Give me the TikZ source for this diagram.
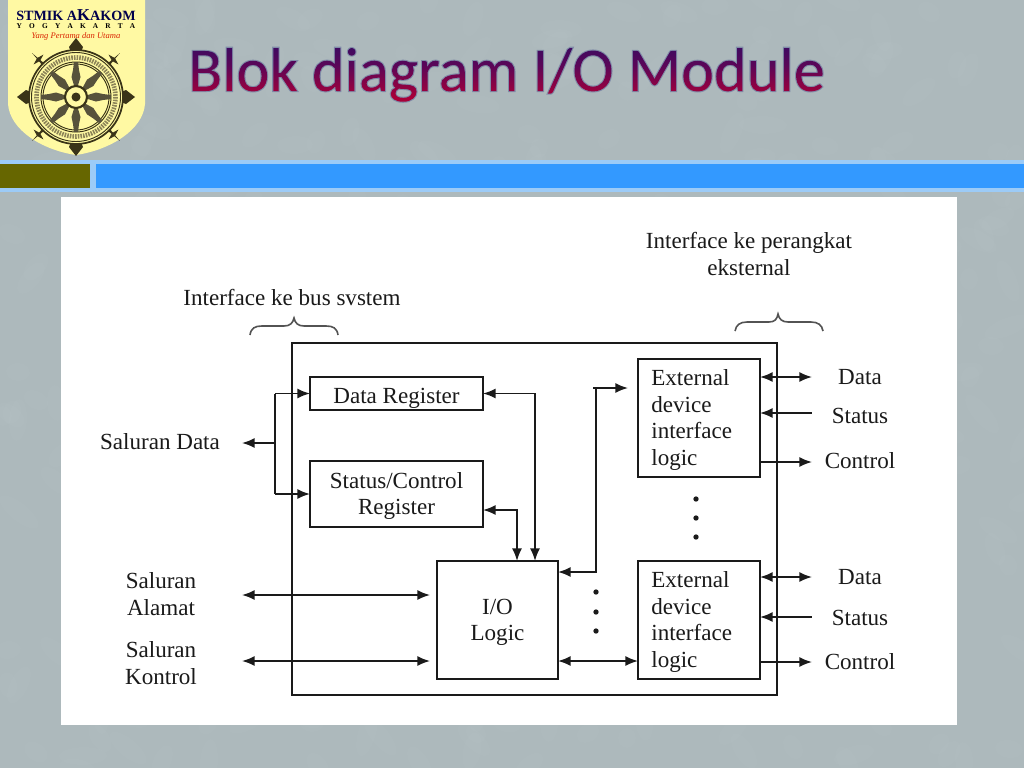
\documentclass[tikz,border=0pt]{standalone}
\usepackage{fontspec}
\setmainfont{Liberation Serif}
\newfontfamily\titlefont{Carlito}
\usetikzlibrary{arrows.meta,calc}
\definecolor{bgc}{HTML}{ADB9BC}
\definecolor{bandlight}{HTML}{9CCBF7}
\definecolor{bandblue}{HTML}{3399FF}
\definecolor{olivebar}{HTML}{666600}
\definecolor{shieldc}{HTML}{FFF9A3}
\definecolor{inkc}{HTML}{1A1A1A}
\definecolor{titletop}{HTML}{14106E}
\definecolor{titlemid}{HTML}{5A0658}
\definecolor{titlebot}{HTML}{A80038}
\definecolor{titleor}{HTML}{F08010}
\definecolor{logoink}{HTML}{3A3418}
\definecolor{logotan}{HTML}{8C8458}
\pgfdeclareverticalshading{titlegrad}{100bp}{color(0bp)=(titleor); color(14bp)=(titleor); color(24bp)=(titlebot); color(32bp)=(titlebot); color(60bp)=(titlemid); color(100bp)=(titletop)}
\tikzset{
  x=0.75pt,y=-0.75pt,
  blockbox/.style={draw=inkc,line width=1.2pt,fill=white,inner sep=0pt,outer sep=0pt},
  lbl/.style={text=inkc,font=\fontsize{17.3}{20}\selectfont,inner sep=0pt,align=center},
  wire/.style={draw=inkc,line width=1.2pt},
  one/.style={wire,-{Latex[length=9.5pt,width=7.5pt]}},
  both/.style={wire,{Latex[length=9.5pt,width=7.5pt]}-{Latex[length=9.5pt,width=7.5pt]}},
  backw/.style={wire,{Latex[length=9.5pt,width=7.5pt]}-},
  bracec/.style={draw=inkc!75,line width=1.2pt},
  dotc/.style={circle,fill=inkc,inner sep=0pt,minimum size=4pt},
  titletext/.style={font=\titlefont\fontsize{46.8}{50}\selectfont,anchor=base west,inner sep=0pt},
  logoline/.style={draw=logoink,line width=0.7pt},
}
\newcommand{\lowr}{\rule{0pt}{15pt}}
\begin{document}
\begin{tikzpicture}
\useasboundingbox (0,0) rectangle (1024,768);
\fill[bgc] (0,0) rectangle (1024,768);
% background mottling
\pgfmathsetseed{7}
\foreach \i in {1,...,420} {
  \pgfmathsetmacro{\bx}{random(0,1024)}
  \pgfmathsetmacro{\by}{random(0,768)}
  \pgfmathsetmacro{\br}{random(0,180)}
  \pgfmathsetmacro{\bl}{random(10,24)}
  \fill[white,opacity=0.014,rotate around={\br:(\bx,\by)}] (\bx,\by) ellipse[x radius=\bl,y radius=9];
}
% title: gradient shown through the glyphs, with a soft grey outline
\node[titletext] (title) at (188,91) {\special{pdf:code 5 Tr 1.6 w 0.50 0.55 0.66 RG}Blok diagram I/O Module\special{pdf:code 0 Tr}\tikz[overlay]{\shade[shading=titlegrad] (-660,-43) rectangle (10,14);}};
% bands
\fill[bandlight] (0,160) rectangle (1024,192);
\fill[olivebar] (0,164) rectangle (90,188);
\fill[bandblue] (96,164) rectangle (1024,188);
% logo shield
\fill[shieldc] (8,0) -- (145,0) -- (145,104) .. controls (143,130) and (110,150) .. (76,155) .. controls (42,150) and (10,130) .. (8,104) -- cycle;
\node[inner sep=0pt,text=black!70!blue,font=\fontsize{10.6}{12}\bfseries\selectfont] (lg1) at (76,15) {STMIK A\fontsize{12.5}{12}\selectfont K\fontsize{10.6}{12}\selectfont AKOM};
\node[inner sep=0pt,text=black,font=\fontsize{5.5}{7}\bfseries\selectfont] (lg2) at (76,26) {Y\hspace{5.4pt}O\hspace{5.4pt}G\hspace{5.4pt}Y\hspace{5.4pt}A\hspace{5.4pt}K\hspace{5.4pt}A\hspace{5.4pt}R\hspace{5.4pt}T\hspace{5.4pt}A};
\node[inner sep=0pt,text=red!70!orange!85!black,font=\fontsize{6.4}{7}\itshape\selectfont] (lg3) at (76,36) {Yang Pertama dan Utama};
% logo wheel
\begin{scope}[shift={(76,97)}]
\foreach \a in {0,90,180,270} {
  \fill[logoink,rotate=\a] (45,-5) -- (50,-7) -- (59,0) -- (50,7) -- (45,5) -- cycle;
}
\foreach \a in {45,135,225,315} {
  \fill[logoink,rotate=\a] (44,-1.5) -- (62,0) -- (44,1.5) -- cycle;
  \fill[logoink,rotate=\a] (53,-7) -- (55,0) -- (53,7) -- (51,0) -- cycle;
}
\draw[logoline,line width=1.3pt,fill=shieldc] (0,0) circle[radius=47];
\draw[logoline] (0,0) circle[radius=44.5];
\draw[logotan,line width=3.5pt,dash pattern=on 1.2pt off 0.8pt] (0,0) circle[radius=39.5];
\draw[logoline] (0,0) circle[radius=35];
\draw[logoline] (0,0) circle[radius=33];
\foreach \a in {0,45,...,315} {
  \fill[logoink!85,rotate=\a] (10,-1.5) -- (20,-4.5) -- (27,-3) -- (35,-2) -- (35,2) -- (27,3) -- (20,4.5) -- (10,1.5) -- cycle;
}
\draw[logoline,line width=1.6pt,fill=shieldc] (0,0) circle[radius=11];
\fill[logoink] (0,0) circle[radius=4.5];
\end{scope}
% panel
\fill[white] (61,197) rectangle (957,725);
% outer module
\draw[blockbox,fill=none] (292,343) rectangle (777,695);
% blocks
\node[blockbox,minimum width=129.75pt,minimum height=24.75pt,anchor=north west,lbl,text=inkc] (dreg) at (310,377) {\raisebox{-3.5pt}[8pt][0pt]{Data Register}};
\node[blockbox,minimum width=129.75pt,minimum height=49.5pt,anchor=north west,lbl,text=inkc] (sreg) at (310,461) {\lowr Status/Control\\Register};
\node[blockbox,minimum width=90.75pt,minimum height=88.5pt,anchor=north west,lbl,text=inkc] (iol) at (437,561) {\lowr I/O\\Logic};
\node[blockbox,minimum width=91.5pt,minimum height=88.5pt,anchor=north west,lbl,text=inkc,align=left,text width=71.5pt,inner xsep=10pt] (ext1) at (638,359) {\lowr External\\device\\interface\\logic};
\node[blockbox,minimum width=91.5pt,minimum height=88.5pt,anchor=north west,lbl,text=inkc,align=left,text width=71.5pt,inner xsep=10pt] (ext2) at (638,561) {\lowr External\\device\\interface\\logic};
% labels
\node[lbl] (lsd) at (160,442) {Saluran Data};
\node[lbl] (lsa) at (161,594) {Saluran\\Alamat};
\node[lbl] (lsk) at (161,663) {Saluran\\Kontrol};
\node[lbl] (lbus) at (292,297) {Interface ke bus svstem};
\node[lbl] (lext) at (749,254) {Interface ke perangkat\\eksternal};
\node[lbl] (d1) at (860,377) {Data};
\node[lbl] (s1) at (860,416) {Status};
\node[lbl] (c1) at (860,461) {Control};
\node[lbl] (d2) at (860,577) {Data};
\node[lbl] (s2) at (860,618) {Status};
\node[lbl] (c2) at (860,662) {Control};
% named junctions
\coordinate (sdtip) at (242,443);
\coordinate (sdj) at (275,443);
\coordinate (sdt) at (275,393.5);
\coordinate (sdb) at (275,494);
\coordinate (drj) at (535,393.5);
\coordinate (srj) at (517,510);
\coordinate (ioa) at (596,572);
\coordinate (iob) at (596,388);
\coordinate (ioc) at (628,388);
\coordinate (sat) at (242,595);
\coordinate (sah) at (430,595);
\coordinate (skt) at (242,661);
\coordinate (skh) at (430,661);
\coordinate (e1d) at (812,377);
\coordinate (e1s) at (812,413);
\coordinate (e1c) at (812,462);
\coordinate (e2d) at (812,577);
\coordinate (e2s) at (812,617);
\coordinate (e2c) at (812,662);
% connectors
\draw[backw] (sdtip) -- (sdj);
\draw[wire] (sdt) -- (sdb);
\draw[one] (sdt) -- (sdt -| dreg.west);
\draw[one] (sdb) -- (sdb -| sreg.west);
\draw[both] (drj -| dreg.east) -- (drj) -- (drj |- iol.north);
\draw[both] (srj -| sreg.east) -- (srj) -- (srj |- iol.north);
\draw[backw] (ioa -| iol.east) -- (ioa) -- (iob) -- ++(-3,0);
\draw[one] (iob) -- (ioc);
\draw[both] (sat) -- (sah);
\draw[both] (skt) -- (skh);
\draw[both] (skh -| iol.east) -- (skh -| ext2.west);
\draw[both] (e1d -| ext1.east) -- (e1d);
\draw[backw] (e1s -| ext1.east) -- (e1s);
\draw[one] (e1c -| ext1.east) -- (e1c);
\draw[both] (e2d -| ext2.east) -- (e2d);
\draw[backw] (e2s -| ext2.east) -- (e2s);
\draw[one] (e2c -| ext2.east) -- (e2c);
% braces
\draw[bracec] (250,335) .. controls (251,328) and (255,326) .. (262,326) -- (284,326) .. controls (290,326) and (293,323) .. (294,318) .. controls (295,323) and (298,326) .. (304,326) -- (326,326) .. controls (333,326) and (337,328) .. (338,335);
\draw[bracec] (735,331) .. controls (736,325) and (740,322) .. (747,322) -- (769,322) .. controls (775,322) and (777,319) .. (778,314) .. controls (779,319) and (782,322) .. (788,322) -- (811,322) .. controls (818,322) and (822,325) .. (823,331);
% dots
\foreach \n/\x/\y in {a/596/592,b/596/612,c/596/631,d/696/499,e/696/518,f/696/537}
  \node[dotc] (dot\n) at (\x,\y) {};
\end{tikzpicture}
\end{document}
